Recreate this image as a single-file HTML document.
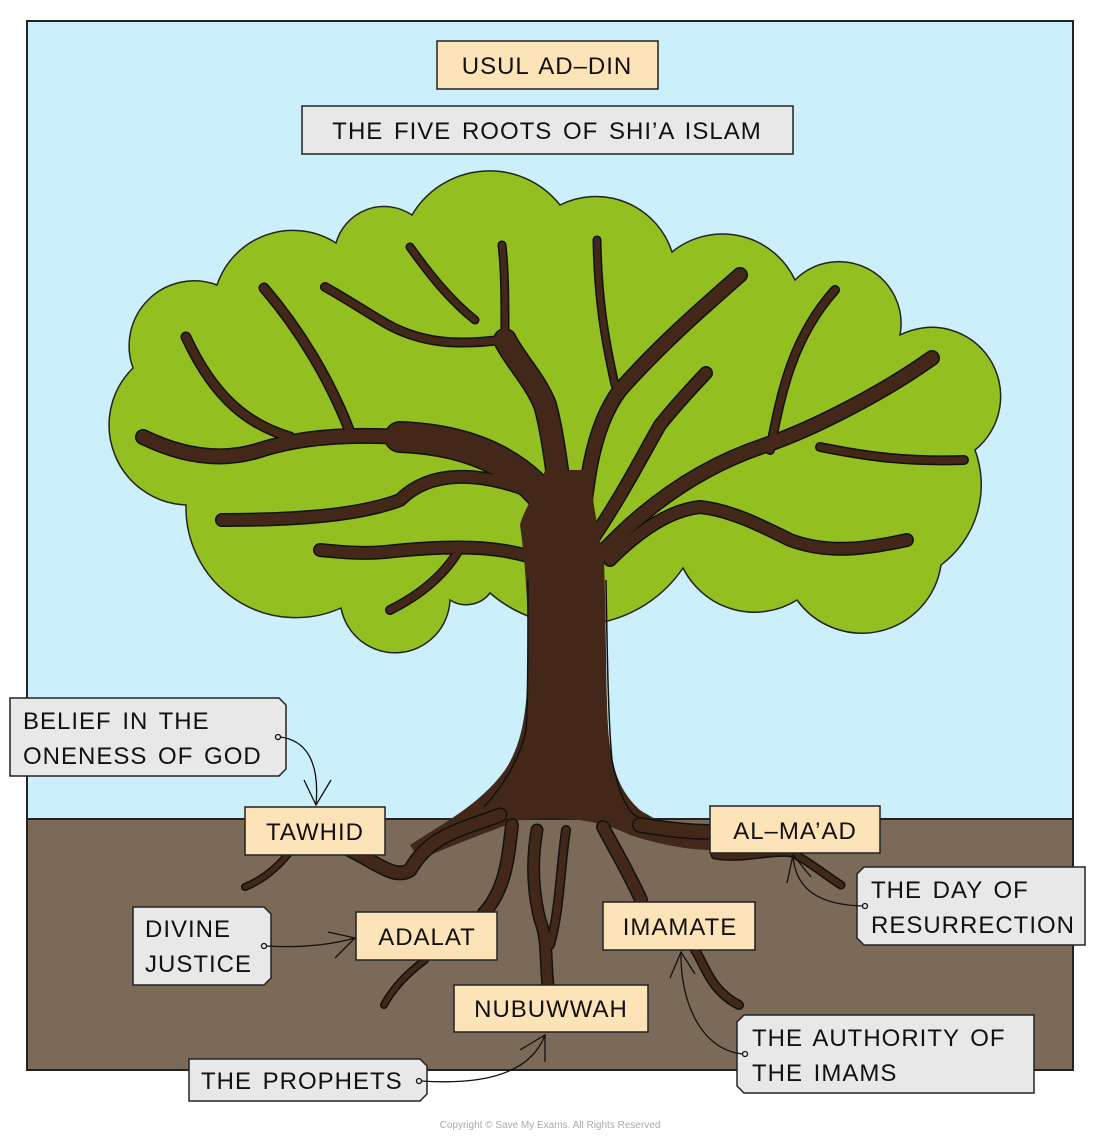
<!DOCTYPE html>
<html><head><meta charset="utf-8"><style>
html,body{margin:0;padding:0;background:#fff;}
svg{display:block}
text{font-family:"Liberation Sans",sans-serif;fill:#111;}
.lb{font-size:24px;letter-spacing:1px;word-spacing:3px}
</style></head><body>
<svg width="1100" height="1141" viewBox="0 0 1100 1141" xmlns="http://www.w3.org/2000/svg">
<rect x="27" y="21" width="1046" height="1049" fill="#cbeffb" stroke="#222" stroke-width="2"/>
<rect x="27" y="819" width="1046" height="251" fill="#7b6a58" stroke="#222" stroke-width="2"/>

<!-- canopy -->
<path d="M133,368 A65,65 0 0 1 217,285 A80,80 0 0 1 336,243 A50,50 0 0 1 412,215 A90,90 0 0 1 560,205 A80,80 0 0 1 672,252 A80,80 0 0 1 795,280 A62,62 0 0 1 900,335 A69,69 0 0 1 975,450 A100,100 0 0 1 941,565 A80,80 0 0 1 797,600 A80,80 0 0 1 683,568 A130,130 0 0 1 490,593 A30,30 0 0 1 450,600 A55,55 0 0 1 341,608 A110,110 0 0 1 186,505 A80,80 0 0 1 133,368 Z" fill="#93bf21" stroke="#222" stroke-width="1.5"/>

<!-- branches -->
<g fill="none" stroke-linecap="round" stroke-linejoin="round">
<g stroke="#111">
<path d="M560,520 C520,470 470,440 400,437 C350,434 300,437 260,450 C220,463 180,455 143,437" stroke-width="16"/>
<path d="M560,520 C530,470 480,440 400,437" stroke-width="32"/>
<path d="M350,432 C330,380 300,330 264,288" stroke-width="11"/>
<path d="M290,437 C250,425 215,400 186,337" stroke-width="11"/>
<path d="M540,495 C480,470 430,470 400,500 C360,515 300,520 222,520" stroke-width="14"/>
<path d="M540,560 C500,545 450,545 385,552 C360,554 340,552 320,550" stroke-width="14"/>
<path d="M460,548 C445,575 420,595 390,610" stroke-width="10"/>
<path d="M570,560 C560,500 555,440 545,405 C535,380 515,360 505,340" stroke-width="24"/>
<path d="M505,345 C505,300 505,270 502,245" stroke-width="9"/>
<path d="M500,340 C460,345 420,345 380,320 C355,305 340,295 325,287" stroke-width="10"/>
<path d="M475,320 C450,300 430,275 410,247" stroke-width="9"/>
<path d="M580,560 C585,490 590,430 620,390 C660,345 700,310 740,275" stroke-width="16"/>
<path d="M615,385 C605,340 598,300 597,240" stroke-width="9"/>
<path d="M582,555 C620,500 640,460 660,425 C680,400 695,385 706,373" stroke-width="14"/>
<path d="M600,555 C660,490 720,460 766,445 C810,430 880,395 932,358" stroke-width="16"/>
<path d="M770,450 C780,400 790,340 835,290" stroke-width="10"/>
<path d="M820,447 C860,455 900,462 964,460" stroke-width="10"/>
<path d="M610,560 C640,530 670,510 700,507 C730,510 760,525 790,540 C830,555 870,548 907,540" stroke-width="14"/>
</g>
<g stroke="#43281a">
<path d="M560,520 C520,470 470,440 400,437 C350,434 300,437 260,450 C220,463 180,455 143,437" stroke-width="13"/>
<path d="M560,520 C530,470 480,440 400,437" stroke-width="29"/>
<path d="M350,432 C330,380 300,330 264,288" stroke-width="8"/>
<path d="M290,437 C250,425 215,400 186,337" stroke-width="8"/>
<path d="M540,495 C480,470 430,470 400,500 C360,515 300,520 222,520" stroke-width="11"/>
<path d="M540,560 C500,545 450,545 385,552 C360,554 340,552 320,550" stroke-width="11"/>
<path d="M460,548 C445,575 420,595 390,610" stroke-width="7"/>
<path d="M570,560 C560,500 555,440 545,405 C535,380 515,360 505,340" stroke-width="21"/>
<path d="M505,345 C505,300 505,270 502,245" stroke-width="6"/>
<path d="M500,340 C460,345 420,345 380,320 C355,305 340,295 325,287" stroke-width="7"/>
<path d="M475,320 C450,300 430,275 410,247" stroke-width="6"/>
<path d="M580,560 C585,490 590,430 620,390 C660,345 700,310 740,275" stroke-width="13"/>
<path d="M615,385 C605,340 598,300 597,240" stroke-width="6"/>
<path d="M582,555 C620,500 640,460 660,425 C680,400 695,385 706,373" stroke-width="11"/>
<path d="M600,555 C660,490 720,460 766,445 C810,430 880,395 932,358" stroke-width="13"/>
<path d="M770,450 C780,400 790,340 835,290" stroke-width="7"/>
<path d="M820,447 C860,455 900,462 964,460" stroke-width="7"/>
<path d="M610,560 C640,530 670,510 700,507 C730,510 760,525 790,540 C830,555 870,548 907,540" stroke-width="11"/>
</g>
</g>

<!-- trunk -->
<path d="M545,470 L590,470 C592,500 598,530 604,560 C606,620 606,680 607,700 C608,750 612,785 640,810 C670,830 700,832 712,832 L712,850 C690,850 660,845 630,835 C600,820 560,815 520,820 C480,835 440,850 420,860 L410,845 C440,825 480,805 505,770 C525,740 528,700 528,650 C528,600 525,560 520,525 C525,505 540,490 545,470 Z" fill="#43281a"/>
<path d="M528,580 C528,640 528,700 526,730 C520,760 500,790 484,807" fill="none" stroke="#111" stroke-width="1.5"/>
<path d="M606,580 C607,640 608,720 612,760 C620,800 630,815 640,818" fill="none" stroke="#111" stroke-width="1.5"/>

<!-- roots -->
<g fill="none" stroke-linecap="round" stroke-linejoin="round">
<g stroke="#111">
<path d="M500,815 C460,830 430,835 410,870 C395,880 375,862 350,850" stroke-width="15"/>
<path d="M290,852 C275,870 262,880 245,887" stroke-width="8"/>
<path d="M512,825 C508,860 505,890 484,913" stroke-width="14"/>
<path d="M425,960 C405,975 392,990 384,1005" stroke-width="8"/>
<path d="M537,830 C530,870 535,900 540,920 C548,940 545,960 548,985" stroke-width="13"/>
<path d="M566,830 C560,870 560,910 550,945" stroke-width="10"/>
<path d="M603,827 C615,850 630,875 641,900" stroke-width="14"/>
<path d="M640,825 C670,830 690,832 712,832" stroke-width="16"/>
<path d="M715,855 C740,860 770,850 792,853 C810,862 825,875 841,885" stroke-width="9"/>
<path d="M695,950 C705,965 710,990 739,1005" stroke-width="10"/>
</g>
<g stroke="#43281a">
<path d="M500,815 C460,830 430,835 410,870 C395,880 375,862 350,850" stroke-width="12"/>
<path d="M290,852 C275,870 262,880 245,887" stroke-width="5"/>
<path d="M512,825 C508,860 505,890 484,913" stroke-width="11"/>
<path d="M425,960 C405,975 392,990 384,1005" stroke-width="5"/>
<path d="M537,830 C530,870 535,900 540,920 C548,940 545,960 548,985" stroke-width="10"/>
<path d="M566,830 C560,870 560,910 550,945" stroke-width="7"/>
<path d="M603,827 C615,850 630,875 641,900" stroke-width="11"/>
<path d="M640,825 C670,830 690,832 712,832" stroke-width="13"/>
<path d="M715,855 C740,860 770,850 792,853 C810,862 825,875 841,885" stroke-width="6"/>
<path d="M695,950 C705,965 710,990 739,1005" stroke-width="7"/>
</g>
</g>

<!-- title boxes -->
<rect x="437" y="41" width="221" height="48" fill="#fde4b8" stroke="#222" stroke-width="1.5"/>
<text class="lb" x="547" y="74" text-anchor="middle">USUL AD–DIN</text>
<rect x="302" y="106" width="491" height="48" fill="#e8e8e8" stroke="#222" stroke-width="1.5"/>
<text class="lb" x="547" y="139" text-anchor="middle">THE FIVE ROOTS OF SHI’A ISLAM</text>

<!-- orange labels -->
<g fill="#fde4b8" stroke="#222" stroke-width="1.5">
<rect x="245" y="807" width="140" height="48"/>
<rect x="356" y="912" width="141" height="48"/>
<rect x="454" y="985" width="194" height="47"/>
<rect x="603" y="902" width="152" height="48"/>
<rect x="710" y="806" width="170" height="47"/>
</g>
<text class="lb" x="315" y="840" text-anchor="middle">TAWHID</text>
<text class="lb" x="427" y="945" text-anchor="middle">ADALAT</text>
<text class="lb" x="551" y="1017" text-anchor="middle">NUBUWWAH</text>
<text class="lb" x="680" y="935" text-anchor="middle">IMAMATE</text>
<text class="lb" x="795" y="839" text-anchor="middle">AL–MA’AD</text>

<!-- grey tags -->
<g fill="#e8e8e8" stroke="#222" stroke-width="1.5">
<path d="M10,698 H279 L286,705 V769 L279,776 H10 Z"/>
<path d="M133,907 H264 L271,914 V978 L264,985 H133 Z"/>
<path d="M189,1059 H420 L427,1066 V1094 L420,1101 H189 Z"/>
<path d="M864,867 H1085 V945 H864 L857,938 V874 Z"/>
<path d="M744,1015 H1034 V1093 H744 L737,1086 V1022 Z"/>
</g>
<text class="lb" x="23" y="729">BELIEF IN THE</text>
<text class="lb" x="23" y="764">ONENESS OF GOD</text>
<text class="lb" x="145" y="937">DIVINE</text>
<text class="lb" x="145" y="972">JUSTICE</text>
<text class="lb" x="201" y="1089">THE PROPHETS</text>
<text class="lb" x="871" y="898">THE DAY OF</text>
<text class="lb" x="871" y="933">RESURRECTION</text>
<text class="lb" x="752" y="1046">THE AUTHORITY OF</text>
<text class="lb" x="752" y="1081">THE IMAMS</text>

<!-- connectors -->
<g fill="none" stroke="#111" stroke-width="1.3">
<circle cx="278" cy="737" r="2.5" fill="#e8e8e8"/>
<path d="M280,737 C305,740 320,760 316,805"/>
<path d="M304,780 L316,805 L331,780"/>
<circle cx="264" cy="946" r="2.5" fill="#e8e8e8"/>
<path d="M266,946 C300,948 330,945 355,938"/>
<path d="M328,932 L355,938 L335,958"/>
<circle cx="419" cy="1081" r="2.5" fill="#e8e8e8"/>
<path d="M421,1081 C480,1085 530,1075 545,1035"/>
<path d="M520,1050 L545,1035 L545,1062"/>
<circle cx="865" cy="906" r="2.5" fill="#e8e8e8"/>
<path d="M863,906 C820,905 795,890 793,855"/>
<path d="M787,883 L793,855 L811,877"/>
<circle cx="745" cy="1054" r="2.5" fill="#e8e8e8"/>
<path d="M743,1054 C700,1050 680,1000 681,952"/>
<path d="M670,978 L681,952 L695,974"/>
</g>

<text x="550" y="1128" text-anchor="middle" style="font-size:10px;fill:#aaa">Copyright © Save My Exams. All Rights Reserved</text>
</svg>
</body></html>
